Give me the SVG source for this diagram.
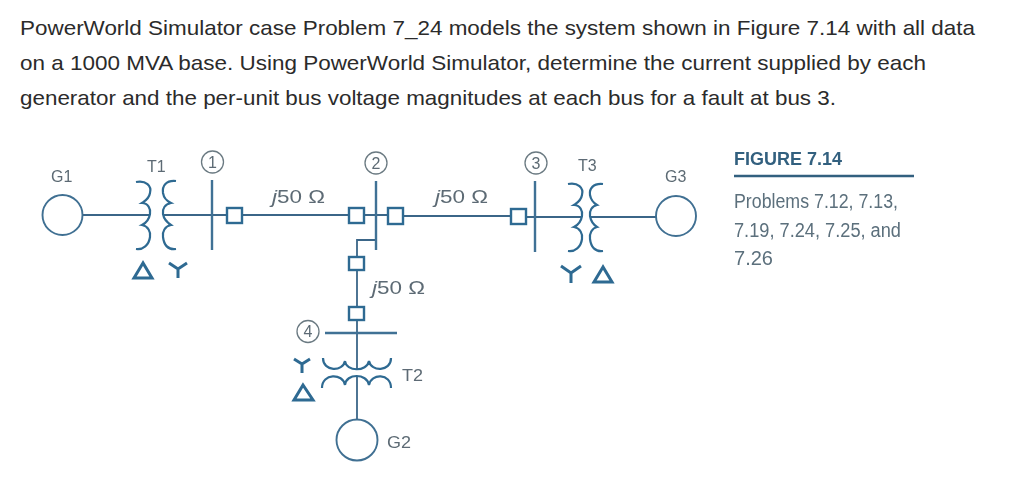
<svg xmlns="http://www.w3.org/2000/svg" width="1024" height="487" viewBox="0 0 1024 487">
<style>
.q{font-family:"Liberation Sans",Arial,sans-serif;font-size:21px;fill:#2b2b2b}
.l{font-family:"Liberation Sans",Arial,sans-serif;font-size:16px;fill:#5d6b74}
.o{font-family:"Liberation Sans",Arial,sans-serif;font-size:19px;fill:#5d6b74}
.i{font-style:italic}
.w{fill:none;stroke:#3a6688;stroke-width:1.8}
.b{fill:none;stroke:#3f7195;stroke-width:2.4}
.t{fill:none;stroke:#2f6a92;stroke-width:2.2}
.y{fill:none;stroke:#2f6a92;stroke-width:3}
.n{fill:#fff;stroke:#6b7a82;stroke-width:1.3}
.s{fill:#fff;stroke:#2f6a92;stroke-width:2.4}
.g{fill:#fff;stroke:#3f6f92;stroke-width:1.9}
.f{font-family:"Liberation Sans",Arial,sans-serif;font-size:19px;font-weight:bold;fill:#33607f}
.p{font-family:"Liberation Sans",Arial,sans-serif;font-size:19.500px;fill:#5b6f7c}
</style>
<defs><filter id="soft" x="-5%" y="-5%" width="110%" height="110%"><feGaussianBlur stdDeviation="0.55"/></filter></defs>
<rect width="1024" height="487" fill="#fff"/>
<g id="question">
<text class="q" x="20" y="35" textLength="955" lengthAdjust="spacingAndGlyphs">PowerWorld Simulator case Problem 7_24 models the system shown in Figure 7.14 with all data</text>
<text class="q" x="20" y="70" textLength="906" lengthAdjust="spacingAndGlyphs">on a 1000 MVA base. Using PowerWorld Simulator, determine the current supplied by each</text>
<text class="q" x="20" y="105" textLength="816" lengthAdjust="spacingAndGlyphs">generator and the per-unit bus voltage magnitudes at each bus for a fault at bus 3.</text>
</g>
<g filter="url(#soft)">
<g id="connectors">
<path class="w" d="M83 215H150M163 215H227M242 215H349M364 215H388M403 216H511M526 217H582M590 217H656"/>
<path class="w" d="M376 240H357V256M357 270V307M357 320V369M357 376V419"/>
</g>
<g id="G1"><circle class="g" cx="62.500" cy="215" r="20"/><text class="l" x="51" y="182">G1</text></g>
<g id="T1">
<path class="t" d="M136 182C146 180 152 186 150 193C149 199 145 201 142 203C148 203 151 209 150 214C149 220 146 223 142 225C148 226 151 232 150 237C149 245 143 250 136 249"/>
<path class="t" d="M176 181C166 180 162 186 163 193C164 199 167 201 171 203C165 204 162 209 163 214C164 220 168 223 171 225C165 226 162 232 163 237C164 245 168 250 176 249"/>
<text class="l" x="147" y="172">T1</text>
<path class="y" d="M143 263L134 278H152Z"/>
<path class="y" d="M169 263L178 269L187 263M178 269V278"/>
</g>
<g id="bus1">
<path class="b" d="M212 180V250"/>
<circle class="n" cx="212.500" cy="162" r="11"/><text class="l" x="212.500" y="168" text-anchor="middle">1</text>
<rect class="s" x="227" y="208" width="15" height="15"/>
</g>
<g id="line12"><text class="o" x="272" y="203" textLength="53" lengthAdjust="spacingAndGlyphs"><tspan class="i">j</tspan>50 Ω</text></g>
<g id="bus2">
<path class="b" d="M376 181V250"/>
<circle class="n" cx="376" cy="163" r="11"/><text class="l" x="376" y="169" text-anchor="middle">2</text>
<rect class="s" x="349" y="208" width="15" height="15"/>
<rect class="s" x="388" y="208" width="15" height="16"/>
<rect class="s" x="349" y="257" width="15" height="13"/>
</g>
<g id="line23"><text class="o" x="435" y="203" textLength="53" lengthAdjust="spacingAndGlyphs"><tspan class="i">j</tspan>50 Ω</text></g>
<g id="bus3">
<path class="b" d="M535 181V252"/>
<circle class="n" cx="536" cy="163" r="11"/><text class="l" x="536" y="169" text-anchor="middle">3</text>
<rect class="s" x="511" y="209" width="15" height="15"/>
</g>
<g id="T3">
<path class="t" d="M568 184C578 182 584 188 582 195C581 201 577 203 574 205C580 205 583 211 582 216C581 222 578 225 574 227C580 228 583 234 582 239C581 247 575 252 568 251"/>
<path class="t" d="M603 184C593 183 589 189 590 195C591 201 594 203 597 205C592 206 589 211 590 216C591 222 594 225 597 227C592 228 589 234 590 239C591 247 595 252 603 251"/>
<text class="l" x="578" y="171">T3</text>
<path class="y" d="M561 266L571 273L581 266M571 273V283"/>
<path class="y" d="M603 267L594 282H612Z"/>
</g>
<g id="G3"><circle class="g" cx="676" cy="216" r="20"/><text class="l" x="665" y="182">G3</text></g>
<g id="line24"><text class="o" x="372" y="294" textLength="53" lengthAdjust="spacingAndGlyphs"><tspan class="i">j</tspan>50 Ω</text></g>
<g id="bus4">
<path class="b" d="M325 333H397"/>
<circle class="n" cx="308" cy="331.500" r="11"/><text class="l" x="308" y="337" text-anchor="middle">4</text>
<rect class="s" x="349" y="307" width="15" height="13"/>
</g>
<g id="T2">
<path class="t" d="M323 358C323 372 343 372 345 361C346 372 367 372 369 361C371 372 391 372 391 358"/>
<path class="t" d="M322 388C322 373 343 373 345 385C346 373 367 373 369 385C371 373 391 373 391 388"/>
<text class="l" x="402" y="381" textLength="21" lengthAdjust="spacingAndGlyphs">T2</text>
<path class="y" d="M294 359L302 364L310 359M302 364V373"/>
<path class="y" d="M303 385L294 400H313Z"/>
</g>
<g id="G2"><circle class="g" cx="357" cy="440" r="20.500"/><text class="l" x="387" y="448" textLength="24" lengthAdjust="spacingAndGlyphs">G2</text></g>
<g id="caption">
<text class="f" x="734" y="165" textLength="108" lengthAdjust="spacingAndGlyphs">FIGURE 7.14</text>
<path stroke="#33607f" stroke-width="2.400" d="M734 176H914"/>
<text class="p" x="734" y="208" textLength="164" lengthAdjust="spacingAndGlyphs">Problems 7.12, 7.13,</text>
<text class="p" x="734" y="237" textLength="167" lengthAdjust="spacingAndGlyphs">7.19, 7.24, 7.25, and</text>
<text class="p" x="734" y="265" textLength="39" lengthAdjust="spacingAndGlyphs">7.26</text>
</g>
</g>
</svg>
